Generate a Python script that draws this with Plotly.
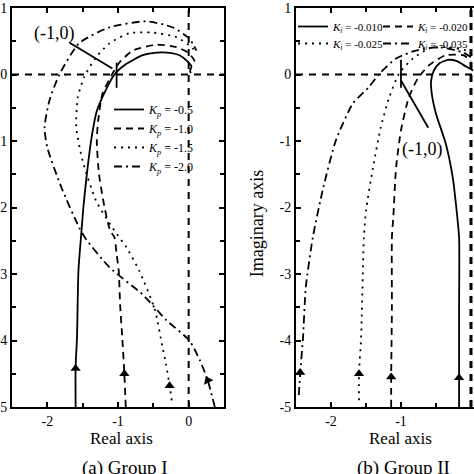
import plotly.graph_objects as go

# ---------------- data: Group I (K_p) ----------------
kp_names = ["<i>K</i><sub><i>p</i></sub> = -0.5", "<i>K</i><sub><i>p</i></sub> = -1.0",
            "<i>K</i><sub><i>p</i></sub> = -1.5", "<i>K</i><sub><i>p</i></sub> = -2.0"]
kp05_re = [-1.60, -1.60, -1.58, -1.56, -1.52, -1.49, -1.44, -1.38, -1.30, -1.18, -1.05, -0.88, -0.65, -0.45, -0.30, -0.13, -0.02, 0.04, 0.02, 0.03]
kp05_im = [-5.00, -4.40, -3.95, -2.95, -2.40, -2.00, -1.49, -0.99, -0.55, -0.25, 0.00, 0.16, 0.29, 0.33, 0.33, 0.29, 0.20, 0.12, 0.06, 0.02]
kp10_re = [-0.89, -0.91, -0.94, -0.97, -0.99, -1.02, -1.05, -1.11, -1.19, -1.27, -1.30, -1.28, -1.22, -1.09, -0.98, -0.79, -0.45, -0.17, -0.01, 0.08, 0.06]
kp10_im = [-5.00, -4.50, -3.95, -3.46, -2.95, -2.70, -2.45, -2.35, -2.00, -1.49, -0.99, -0.69, -0.29, -0.01, 0.18, 0.36, 0.45, 0.41, 0.33, 0.21, 0.14]
kp15_re = [-0.24, -0.27, -0.32, -0.37, -0.48, -0.70, -0.88, -1.05, -1.31, -1.50, -1.59, -1.57, -1.48, -1.31, -1.12, -0.84, -0.51, -0.17, 0.06, 0.08]
kp15_im = [-4.90, -4.68, -4.36, -4.10, -3.53, -2.95, -2.60, -2.35, -1.90, -1.30, -0.80, -0.35, -0.04, 0.26, 0.47, 0.62, 0.63, 0.56, 0.39, 0.30]
kp20_re = [0.37, 0.27, 0.16, 0.01, -0.31, -0.65, -1.12, -1.45, -1.55, -1.80, -2.00, -2.04, -1.97, -1.83, -1.55, -1.12, -0.60, -0.23, 0.01, 0.11]
kp20_im = [-5.00, -4.60, -4.30, -4.00, -3.70, -3.31, -2.90, -2.48, -2.30, -1.70, -1.10, -0.80, -0.39, 0.00, 0.47, 0.71, 0.80, 0.71, 0.54, 0.36]
kp_arrow_re = [-1.60, -0.91, -0.27, 0.27]
kp_arrow_im = [-4.42, -4.50, -4.68, -4.60]
kp_arrow_angle = [0, 0, 0, -25]

# ---------------- data: Group II (K_i) ----------------
ki_names = ["<i>K</i><sub><i>i</i></sub> = -0.010", "<i>K</i><sub><i>i</i></sub> = -0.020",
            "<i>K</i><sub><i>i</i></sub> = -0.025", "<i>K</i><sub><i>i</i></sub> = -0.035"]
ki010_re = [-0.17, -0.17, -0.17, -0.17, -0.21, -0.26, -0.36, -0.50, -0.56, -0.57, -0.53, -0.45, -0.33, -0.20, -0.07, 0.03]
ki010_im = [-5.00, -4.56, -3.50, -2.45, -2.00, -1.55, -1.04, -0.59, -0.29, -0.10, 0.06, 0.17, 0.22, 0.20, 0.12, 0.06]
ki020_re = [-1.14, -1.14, -1.13, -1.13, -1.11, -1.07, -1.00, -0.89, -0.76, -0.60, -0.36, -0.11, 0.00]
ki020_im = [-5.00, -4.55, -3.50, -2.45, -2.15, -1.40, -0.84, -0.35, -0.06, 0.14, 0.29, 0.29, 0.20]
ki025_re = [-1.60, -1.60, -1.57, -1.53, -1.50, -1.40, -1.29, -1.17, -1.03, -0.83, -0.60, -0.31, -0.07, 0.02]
ki025_im = [-4.90, -4.50, -3.96, -2.45, -2.05, -1.40, -0.80, -0.35, 0.01, 0.24, 0.39, 0.41, 0.36, 0.30]
ki035_re = [-2.46, -2.44, -2.40, -2.36, -2.26, -2.11, -1.93, -1.69, -1.46, -1.31, -1.07, -0.79, -0.46, -0.11, 0.00]
ki035_im = [-4.82, -4.49, -3.96, -3.20, -2.45, -1.70, -0.99, -0.44, -0.19, 0.01, 0.24, 0.36, 0.41, 0.33, 0.26]
ki_arrow_re = [-0.17, -1.14, -1.60, -2.44]
ki_arrow_im = [-4.56, -4.55, -4.50, -4.48]

# (-1,0) markers
mark1_re, mark1_im = [-1.02, -1.02], [0.18, -0.20]
lead1_re, lead1_im = [-1.69, -1.08], [0.48, 0.09]
lab1_re, lab1_im = -1.90, 0.62
mark2_re, mark2_im = [-1.00, -1.00], [0.22, -0.20]
lead2_re, lead2_im = [-1.00, -0.61], [-0.09, -0.80]
lab2_re, lab2_im = -0.70, -1.13

x_ticks = [-2, -1, 0]
x_tick_text = ["-2", "-1", "0"]
y_ticks = [1, 0, -1, -2, -3, -4, -5]
y_tick_text = ["1", "0", "-1", "-2", "-3", "-4", "-5"]

FONT = "Liberation Serif"
dashes = ["solid", "7px,5px", "2px,5px", "8px,4px,2px,4px"]

fig = go.Figure()

kp_series = [(kp05_re, kp05_im), (kp10_re, kp10_im), (kp15_re, kp15_im), (kp20_re, kp20_im)]
for (xr, yi), nm, ds in zip(kp_series, kp_names, dashes):
    fig.add_trace(go.Scatter(x=xr, y=yi, mode="lines", name=nm, legend="legend",
                             line=dict(color="black", width=1.8, dash=ds, shape="spline", smoothing=0.6),
                             xaxis="x", yaxis="y"))
fig.add_trace(go.Scatter(x=kp_arrow_re, y=kp_arrow_im, mode="markers", showlegend=False,
                         marker=dict(symbol="triangle-up", size=9, color="black", angle=kp_arrow_angle),
                         xaxis="x", yaxis="y"))

ki_series = [(ki010_re, ki010_im), (ki020_re, ki020_im), (ki025_re, ki025_im), (ki035_re, ki035_im)]
ki_leg = ["legend2", "legend3", "legend4", "legend5"]
for (xr, yi), nm, ds, lg in zip(ki_series, ki_names, dashes, ki_leg):
    fig.add_trace(go.Scatter(x=xr, y=yi, mode="lines", name=nm, legend=lg,
                             line=dict(color="black", width=1.8, dash=ds, shape="spline", smoothing=0.6),
                             xaxis="x2", yaxis="y2"))
fig.add_trace(go.Scatter(x=ki_arrow_re, y=ki_arrow_im, mode="markers", showlegend=False,
                         marker=dict(symbol="triangle-up", size=9, color="black"),
                         xaxis="x2", yaxis="y2"))

# (-1,0) markers and leaders
for xr, yi, xa, ya in [(mark1_re, mark1_im, "x", "y"), (lead1_re, lead1_im, "x", "y"),
                       (mark2_re, mark2_im, "x2", "y2"), (lead2_re, lead2_im, "x2", "y2")]:
    fig.add_trace(go.Scatter(x=xr, y=yi, mode="lines", showlegend=False,
                             line=dict(color="black", width=1.8), xaxis=xa, yaxis=ya))

# reference axes (dashed)
for xa, ya, w in [("x", "y", 2), ("x2", "y2", 3)]:
    fig.add_shape(type="line", xref=xa + " domain", yref=ya, x0=0, x1=1, y0=0, y1=0,
                  line=dict(color="black", width=2, dash="7px,6px"))
    fig.add_shape(type="line", xref=xa, yref=ya + " domain", x0=0, x1=0, y0=0, y1=1,
                  line=dict(color="black", width=w, dash="7px,6px"))

axis_common = dict(showline=True, linecolor="black", linewidth=2, ticks="inside", ticklen=5,
                   tickcolor="black", tickwidth=1.5, showgrid=False, zeroline=False,
                   tickfont=dict(family=FONT, size=14, color="black"), automargin=False,
                   minor=dict(ticks="inside", ticklen=4, dtick=0.5, tick0=0, tickcolor="black", tickwidth=1.5))

L = 12
W = 474 - L
H = 399


def leg(px_left, px_top, size):
    return dict(x=(px_left - L) / W, y=(407 - px_top) / H, xanchor="left", yanchor="top",
                bgcolor="rgba(0,0,0,0)", borderwidth=0, font=dict(family=FONT, size=size, color="black"))


fig.update_layout(
    width=474, height=474, margin=dict(l=L, r=0, t=8, b=67, autoexpand=False),
    paper_bgcolor="white", plot_bgcolor="white", template=None,
    font=dict(family=FONT, color="black"),
    xaxis=dict(domain=[0, 212 / W], range=[-2.5, 0.5], tickmode="array", tickvals=x_ticks,
               ticktext=x_tick_text, mirror="allticks", anchor="y", **axis_common),
    yaxis=dict(domain=[0, 1], range=[-5, 1], tickmode="array", tickvals=y_ticks,
               ticktext=y_tick_text, mirror="allticks", anchor="x", **axis_common),
    xaxis2=dict(domain=[284 / W, 1], range=[-2.5, 0.043], tickmode="array", tickvals=x_ticks,
                ticktext=x_tick_text, mirror="allticks", anchor="y2", **axis_common),
    yaxis2=dict(domain=[0, 1], range=[-5, 1], tickmode="array", tickvals=y_ticks,
                ticktext=y_tick_text, mirror=False, anchor="x2", **axis_common),
    legend=leg(109, 95, 12),
    legend2=leg(293, 12, 11),
    legend3=leg(378, 12, 11),
    legend4=leg(293, 29, 11),
    legend5=leg(378, 29, 11),
    showlegend=True,
)

annots = [
    dict(text="(-1,0)", x=lab1_re, y=lab1_im, xref="x", yref="y", font=dict(size=18)),
    dict(text="(-1,0)", x=lab2_re, y=lab2_im, xref="x2", yref="y2", font=dict(size=18)),
    dict(text="Real axis", x=-0.95, y=-0.078, xref="x", yref="paper", font=dict(size=17)),
    dict(text="Real axis", x=-1.0, y=-0.078, xref="x2", yref="paper", font=dict(size=17)),
    dict(text="(a) Group I", x=-0.91, y=-0.153, xref="x", yref="paper", font=dict(size=19)),
    dict(text="(b) Group II", x=-0.97, y=-0.153, xref="x2", yref="paper", font=dict(size=19)),
    dict(text="Imaginary axis", x=(257 - L) / W, y=-2.25, xref="paper", yref="y2",
         textangle=-90, font=dict(size=18)),
]
for a in annots:
    a["font"]["family"] = FONT
    a["font"]["color"] = "black"
    fig.add_annotation(showarrow=False, xanchor="center", yanchor="middle", **a)

fig.write_html("out.html")
